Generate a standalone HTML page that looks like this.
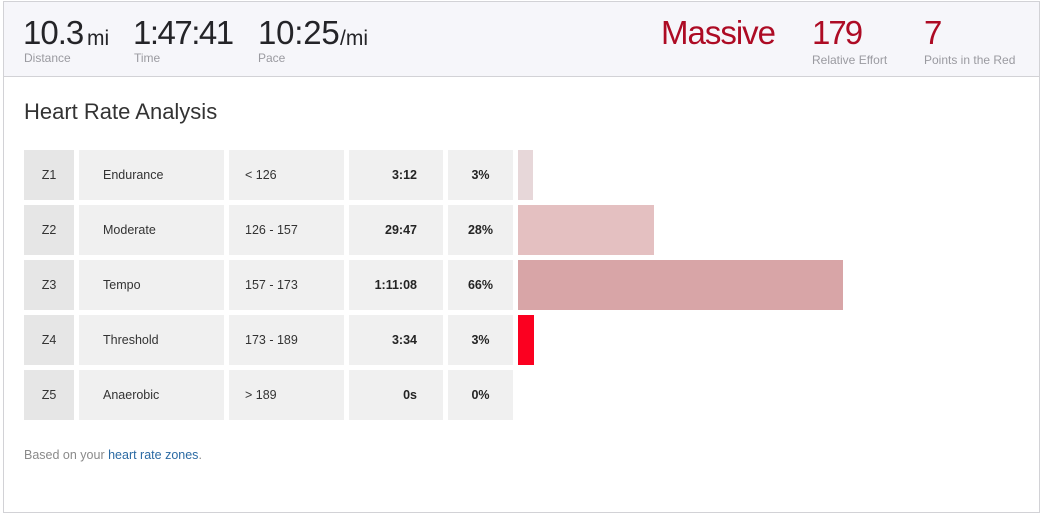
<!DOCTYPE html>
<html>
<head>
<meta charset="utf-8">
<style>
  html,body{margin:0;padding:0;background:#fff;}
  body{width:1042px;height:515px;position:relative;overflow:hidden;font-family:"Liberation Sans",Arial,sans-serif;}
  .abs{position:absolute;white-space:nowrap;}
  .box{position:absolute;left:3px;top:1px;width:1035px;height:510px;border:1px solid #d2d2d6;background:#fff;}
  .hdr{position:absolute;left:4px;top:2px;width:1035px;height:74px;background:#f6f6fa;border-bottom:1px solid #d2d2d6;}
  .big{font-size:33px;line-height:33px;color:#242428;top:16px;}
  .unit{font-size:21px;line-height:21px;color:#242428;}
  .lbl{font-size:12px;line-height:12px;color:#9a9aa0;}
  .red{color:#ad0b24;}
  .title{font-size:22px;line-height:22px;color:#333;left:24px;top:101px;}
  .cell{position:absolute;height:50px;line-height:50px;font-size:12.5px;color:#333;background:#f0f0f0;white-space:nowrap;}
  .z{background:#e6e6e6;text-align:center;}
  .b{font-weight:bold;color:#242424;}
  .bar{position:absolute;height:50px;}
  .foot{font-size:12.5px;line-height:12.5px;color:#8a8a8a;left:24px;top:449px;}
  .foot span{color:#2b6aa3;}
</style>
</head>
<body>
<div class="box"></div>
<div class="hdr"></div>

<div class="abs big" style="left:23px;letter-spacing:-1px;">10.3</div>
<div class="abs unit" style="left:87px;top:28px;">mi</div>
<div class="abs lbl" style="left:24px;top:52px;">Distance</div>

<div class="abs big" style="left:133px;letter-spacing:-1.5px;">1:47:41</div>
<div class="abs lbl" style="left:134px;top:52px;">Time</div>

<div class="abs big" style="left:258px;letter-spacing:-0.2px;">10:25</div>
<div class="abs unit" style="left:340px;top:28px;">/mi</div>
<div class="abs lbl" style="left:258px;top:52px;">Pace</div>

<div class="abs big red" style="left:661px;letter-spacing:-1px;">Massive</div>
<div class="abs big red" style="left:812px;letter-spacing:-2px;">179</div>
<div class="abs lbl" style="left:812px;top:54px;">Relative Effort</div>
<div class="abs big red" style="left:924px;">7</div>
<div class="abs lbl" style="left:924px;top:54px;">Points in the Red</div>

<div class="abs title">Heart Rate Analysis</div>

<!-- Row 1 -->
<div class="cell z" style="left:24px;top:150px;width:50px;">Z1</div>
<div class="cell" style="left:79px;top:150px;width:145px;"><span style="position:absolute;left:24px;">Endurance</span></div>
<div class="cell" style="left:229px;top:150px;width:115px;"><span style="position:absolute;left:16px;">&lt; 126</span></div>
<div class="cell b" style="left:349px;top:150px;width:94px;text-align:right;"><span style="padding-right:26px;">3:12</span></div>
<div class="cell b" style="left:448px;top:150px;width:65px;text-align:center;">3%</div>
<div class="bar" style="left:518px;top:150px;width:15px;background:#e7d7d9;"></div>

<!-- Row 2 -->
<div class="cell z" style="left:24px;top:205px;width:50px;">Z2</div>
<div class="cell" style="left:79px;top:205px;width:145px;"><span style="position:absolute;left:24px;">Moderate</span></div>
<div class="cell" style="left:229px;top:205px;width:115px;"><span style="position:absolute;left:16px;">126 - 157</span></div>
<div class="cell b" style="left:349px;top:205px;width:94px;text-align:right;"><span style="padding-right:26px;">29:47</span></div>
<div class="cell b" style="left:448px;top:205px;width:65px;text-align:center;">28%</div>
<div class="bar" style="left:518px;top:205px;width:136px;background:#e4c0c1;"></div>

<!-- Row 3 -->
<div class="cell z" style="left:24px;top:260px;width:50px;">Z3</div>
<div class="cell" style="left:79px;top:260px;width:145px;"><span style="position:absolute;left:24px;">Tempo</span></div>
<div class="cell" style="left:229px;top:260px;width:115px;"><span style="position:absolute;left:16px;">157 - 173</span></div>
<div class="cell b" style="left:349px;top:260px;width:94px;text-align:right;"><span style="padding-right:26px;">1:11:08</span></div>
<div class="cell b" style="left:448px;top:260px;width:65px;text-align:center;">66%</div>
<div class="bar" style="left:518px;top:260px;width:325px;background:#d8a5a7;"></div>

<!-- Row 4 -->
<div class="cell z" style="left:24px;top:315px;width:50px;">Z4</div>
<div class="cell" style="left:79px;top:315px;width:145px;"><span style="position:absolute;left:24px;">Threshold</span></div>
<div class="cell" style="left:229px;top:315px;width:115px;"><span style="position:absolute;left:16px;">173 - 189</span></div>
<div class="cell b" style="left:349px;top:315px;width:94px;text-align:right;"><span style="padding-right:26px;">3:34</span></div>
<div class="cell b" style="left:448px;top:315px;width:65px;text-align:center;">3%</div>
<div class="bar" style="left:518px;top:315px;width:16px;background:#fb0020;"></div>

<!-- Row 5 -->
<div class="cell z" style="left:24px;top:370px;width:50px;">Z5</div>
<div class="cell" style="left:79px;top:370px;width:145px;"><span style="position:absolute;left:24px;">Anaerobic</span></div>
<div class="cell" style="left:229px;top:370px;width:115px;"><span style="position:absolute;left:16px;">&gt; 189</span></div>
<div class="cell b" style="left:349px;top:370px;width:94px;text-align:right;"><span style="padding-right:26px;">0s</span></div>
<div class="cell b" style="left:448px;top:370px;width:65px;text-align:center;">0%</div>

<div class="abs foot">Based on your <span>heart rate zones</span>.</div>
</body>
</html>
